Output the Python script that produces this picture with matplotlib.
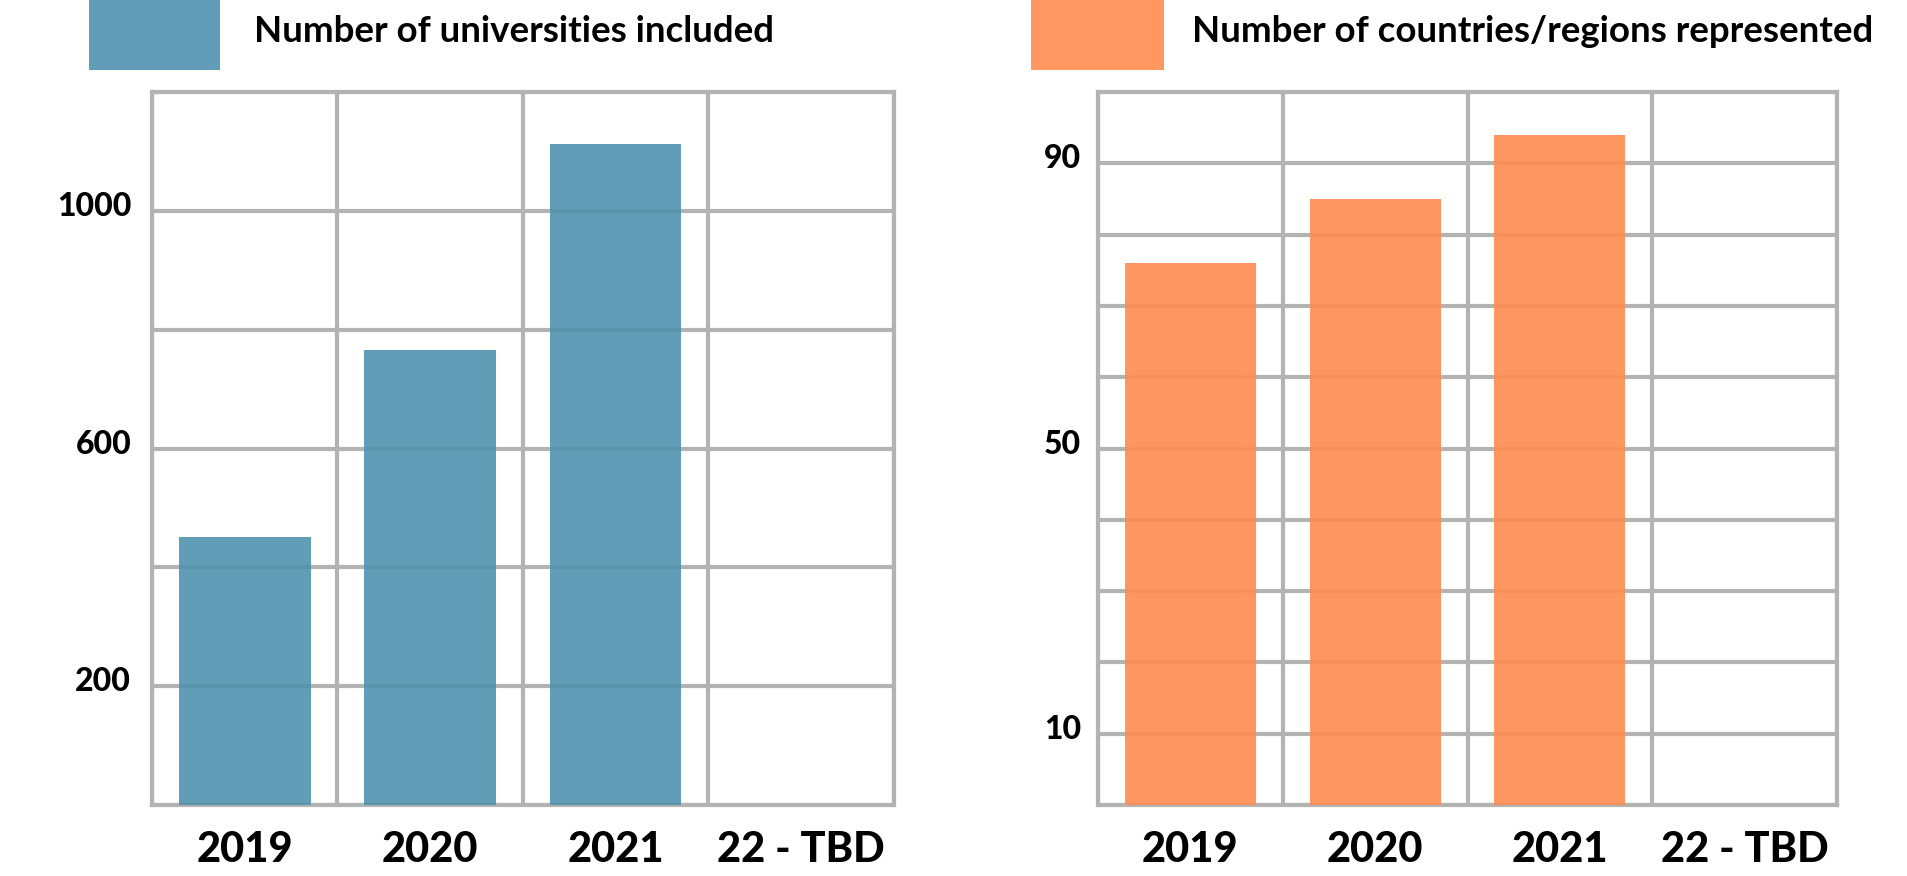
import matplotlib
matplotlib.use("Agg")
import matplotlib.pyplot as plt
import matplotlib.transforms as mtransforms
from matplotlib.patches import Rectangle

plt.rcParams['font.family'] = ['Lato', 'DejaVu Sans']

years = ["2019", "2020", "2021", "22 - TBD"]
universities = [451, 765, 1113, None]
countries = [76, 85, 94, None]

uni_ticks = [0, 200, 400, 600, 800, 1000, 1200]
uni_labels = ["", "200", "", "600", "", "1000", ""]
country_ticks = [0, 10, 20, 30, 40, 50, 60, 70, 80, 90, 100]
country_labels = ["", "10", "", "", "", "50", "", "", "", "90", ""]

BLUE = "#5092ae"
ORANGE = "#fe8b50"
GRID = "#b3b3b3"

fig = plt.figure(figsize=(19.07, 8.76), dpi=100)


def draw_panel(rect, values, color, ticks, labels, ymax, ypad):
    ax = fig.add_axes(rect)
    xs = [i for i, v in enumerate(values) if v is not None]
    hs = [v for v in values if v is not None]
    ax.bar(xs, hs, width=0.71, color=color, alpha=0.9, zorder=3)
    ax.set_xlim(-0.5, len(years) - 0.5)
    ax.set_ylim(0, ymax)

    ax.set_yticks(ticks)
    ax.set_yticklabels(labels)
    ax.set_xticks(range(len(years)))
    ax.set_xticklabels(years)
    ax.set_xticks([i - 0.5 for i in range(len(years) + 1)], minor=True)

    ax.grid(axis="y", which="major", color=GRID, linewidth=3, zorder=1)
    ax.grid(axis="x", which="minor", color=GRID, linewidth=3, zorder=1)
    ax.set_axisbelow(True)
    for s in ax.spines.values():
        s.set_color(GRID)
        s.set_linewidth(3)
        s.set_zorder(1)

    ax.tick_params(axis="both", which="both", length=0)
    ax.tick_params(axis="x", pad=19, labelsize=30)
    ax.tick_params(axis="y", pad=ypad, labelsize=23)
    for lab in ax.get_xticklabels():
        lab.set_fontweight("black")
    up = mtransforms.ScaledTranslation(0, 7 / 100, fig.dpi_scale_trans)
    for lab in ax.get_yticklabels():
        lab.set_fontweight("black")
        lab.set_transform(lab.get_transform() + up)
    return ax


draw_panel([0.0797, 0.081, 0.389, 0.814], universities, BLUE,
           uni_ticks, uni_labels, 1200, 15)
draw_panel([0.5758, 0.081, 0.3875, 0.814], countries, ORANGE,
           country_ticks, country_labels, 100, 12)

# legend boxes on top
fig.patches.append(Rectangle((89, 806), 131, 70, transform=None,
                             facecolor="#629db8", edgecolor="none"))
fig.patches.append(Rectangle((1031, 806), 133, 70, transform=None,
                             facecolor="#fe9762", edgecolor="none"))
fig.text(254 / 1907, 1 - 32 / 876, "Number of universities included",
         fontsize=26.4, fontweight="bold", va="center", ha="left")
fig.text(1192 / 1907, 1 - 32 / 876, "Number of countries/regions represented",
         fontsize=26.4, fontweight="bold", va="center", ha="left")

fig.savefig("out.png", dpi=100, facecolor="white")
